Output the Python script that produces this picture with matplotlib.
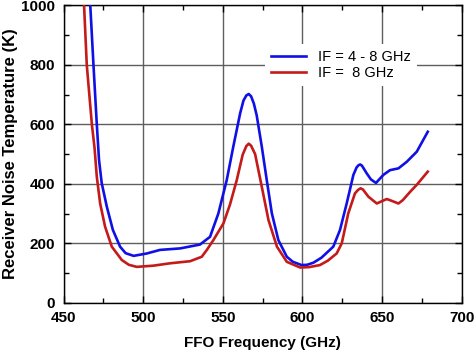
import matplotlib
matplotlib.use("Agg")
import matplotlib.pyplot as plt
from matplotlib.ticker import MultipleLocator

plt.rcParams['font.family'] = ['Liberation Sans', 'DejaVu Sans']

# receiver noise temperature vs FFO frequency
freq_if48 = [466.8, 468.8, 470.9, 472.3, 474.0, 477.2, 481.0, 485.5, 489.0, 494.0,
             502.3, 510.6, 523.2, 535.7, 542.0, 547.2, 552.5, 556.6, 560.9, 563.0,
             564.8, 566.3, 567.8, 569.5, 571.3, 574.5, 577.6, 580.8, 584.9, 590.2,
             594.0, 599.5, 603.0, 606.9, 612.0, 619.4, 623.6, 627.8, 632.0, 634.0,
             635.3, 636.3, 637.4, 640.4, 643.0, 646.2, 650.8, 655.0, 660.3, 665.5,
             671.8, 678.7]
tn_if48 = [1000, 800, 600, 480, 402, 323, 245, 189, 167, 158,
           166, 178, 183, 196, 222, 300, 413, 525, 637, 680,
           697, 702, 694, 670, 630, 525, 413, 301, 211, 155,
           138, 127, 128, 135, 152, 189, 245, 334, 430, 455,
           463, 465, 461, 435, 415, 403, 430, 446, 452, 474,
           508, 575]

freq_if8 = [462.9, 464.6, 467.8, 469.5, 470.9, 473.0, 476.1, 480.3, 486.6, 491.0,
            496.0, 506.4, 516.9, 529.5, 536.8, 540.0, 544.1, 550.4, 554.5, 558.8,
            562.5, 564.8, 566.3, 567.8, 570.3, 574.5, 578.7, 584.0, 590.2, 598.5,
            604.0, 611.0, 616.0, 621.5, 624.7, 628.8, 633.0, 635.0, 636.5, 638.0,
            641.4, 646.7, 650.0, 653.0, 656.0, 660.3, 663.0, 667.6, 672.0, 678.7]
tn_if8 = [1000, 800, 600, 520, 424, 334, 256, 189, 144, 128,
          121, 125, 133, 140, 155, 178, 211, 267, 330, 413,
          498, 527, 535, 528, 500, 390, 278, 189, 138, 119,
          120, 127, 142, 166, 200, 301, 368, 380, 385, 381,
          357, 334, 342, 349, 343, 334, 345, 373, 398, 441]

labels = ['IF = 4 - 8 GHz', 'IF =  8 GHz']

fig = plt.figure(figsize=(4.74, 3.53), dpi=100)
ax = fig.add_axes([0.134, 0.142, 0.840, 0.843])

ax.plot(freq_if48, tn_if48, color='#1010e6', lw=1.9, label=labels[0], zorder=3)
ax.plot(freq_if8, tn_if8, color='#c41a1a', lw=1.9, label=labels[1], zorder=3)

ax.set_xlim(450, 700)
ax.set_ylim(0, 1000)
ax.xaxis.set_major_locator(MultipleLocator(50))
ax.xaxis.set_minor_locator(MultipleLocator(25))
ax.yaxis.set_major_locator(MultipleLocator(200))
ax.yaxis.set_minor_locator(MultipleLocator(100))
ax.grid(True, which='major', color='#5e5e5e', lw=1.0)
ax.set_axisbelow(True)

ax.tick_params(which='both', direction='in', top=True, right=True, width=1)
ax.tick_params(which='major', length=5, labelsize=11, pad=6)
ax.tick_params(which='minor', length=3.5)
for lab in ax.get_xticklabels() + ax.get_yticklabels():
    lab.set_fontweight('bold')
for sp in ax.spines.values():
    sp.set_linewidth(1.0)

ax.set_xlabel('FFO Frequency (GHz)', fontsize=11, fontweight='bold', labelpad=8)
ax.set_ylabel('Receiver Noise Temperature (K)', fontsize=12, fontweight='bold', labelpad=2)

leg = ax.legend(loc='center', bbox_to_anchor=(0.697, 0.80), frameon=True,
                fontsize=10.5, handlelength=2.4, handletextpad=0.8,
                labelspacing=0.15, borderpad=0.4)
leg.get_frame().set_edgecolor('none')
leg.get_frame().set_facecolor('white')
leg.get_frame().set_alpha(1)

fig.savefig('out.png', dpi=100)
